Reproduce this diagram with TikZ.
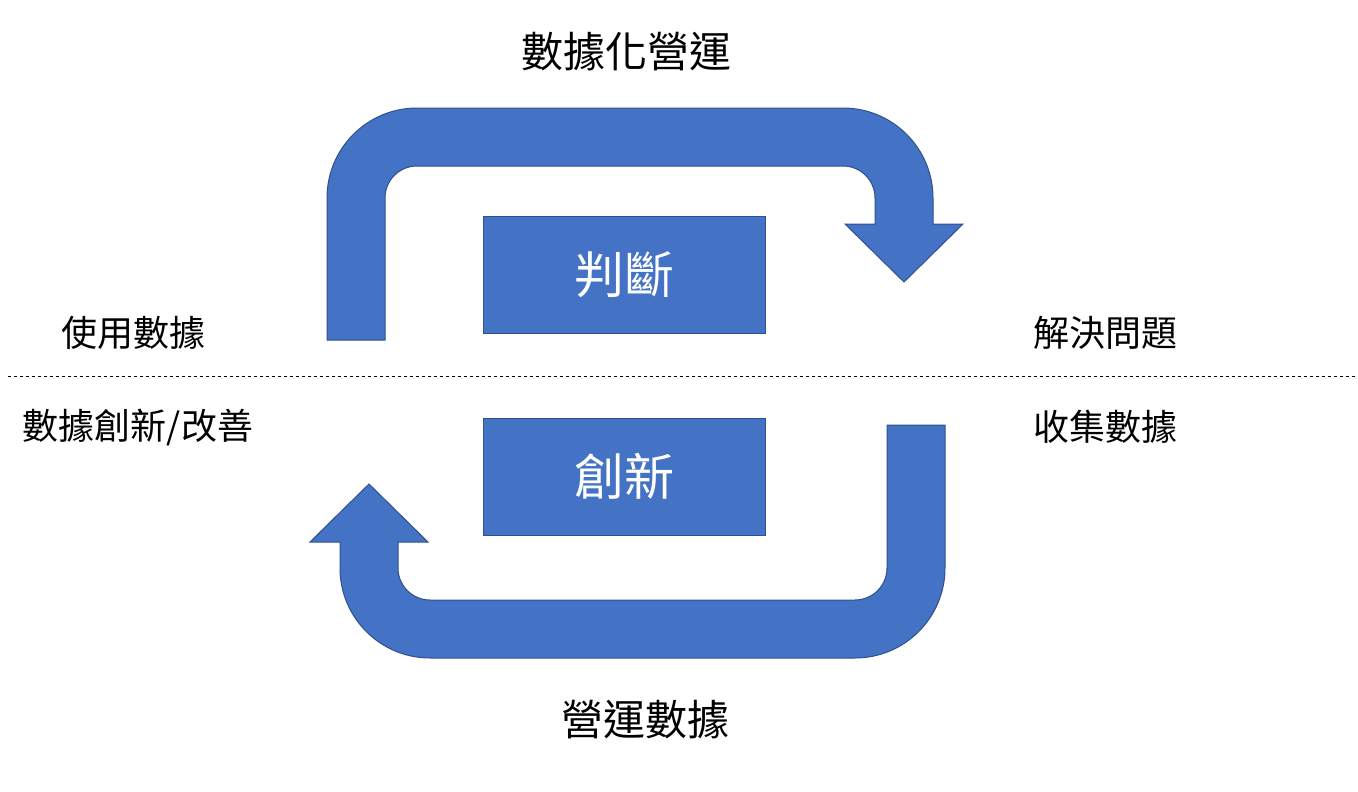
\documentclass[tikz,border=0pt]{standalone}
\usepackage{fontspec}
\newfontfamily\cjk{Noto Sans CJK TC}
\definecolor{bluefill}{HTML}{4472C4}
\definecolor{blueline}{HTML}{2F528F}
\begin{document}
\begin{tikzpicture}[x=1pt,y=-1pt,
  shp/.style={fill=bluefill,draw=blueline,line width=1pt},
  boxtxt/.style={text=white,font=\cjk\fontsize{50}{60}\selectfont},
  lbl/.style={font=\cjk\fontsize{36}{44}\selectfont},
  ttl/.style={font=\cjk\fontsize{42}{50}\selectfont}]
\useasboundingbox (0,0) rectangle (1358,792);
\fill[white] (0,0) rectangle (1358,792);
% top arrow
\path[shp] (327,340) -- (327,198) arc[start angle=180,end angle=270,radius=90]
  -- (843,108) arc[start angle=270,end angle=360,radius=90] -- (933,224)
  -- (963,224) -- (904,282) -- (845,224) -- (875,224) -- (875,198)
  arc[start angle=360,end angle=270,radius=32] -- (417,166)
  arc[start angle=270,end angle=180,radius=32] -- (385,340) -- cycle;
% bottom arrow
\path[shp] (945,425) -- (945,568) arc[start angle=0,end angle=90,radius=90]
  -- (430,658) arc[start angle=90,end angle=180,radius=90] -- (340,542)
  -- (310,542) -- (369,484) -- (428,542) -- (398,542) -- (398,568)
  arc[start angle=180,end angle=90,radius=32] -- (855,600)
  arc[start angle=90,end angle=0,radius=32] -- (887,425) -- cycle;
\node[shp,minimum width=282pt,minimum height=117pt,boxtxt] (judge) at (624,274.5) {判斷};
\node[shp,minimum width=282pt,minimum height=117pt,boxtxt] (innov) at (624,476.5) {創新};
\coordinate (dl) at (8,376);
\coordinate (dr) at (1358,376);
\draw[dashed,line width=0.8pt] (dl) -- (dr);
\node[ttl] (t1) at (626,52) {數據化營運};
\node[ttl] (t2) at (645,720) {營運數據};
\node[lbl] (l1) at (133,333) {使用數據};
\node[lbl] (l2) at (1105,333) {解決問題};
\node[lbl] (l3) at (138,427) {數據創新/改善};
\node[lbl] (l4) at (1105,427) {收集數據};
\end{tikzpicture}
\end{document}
